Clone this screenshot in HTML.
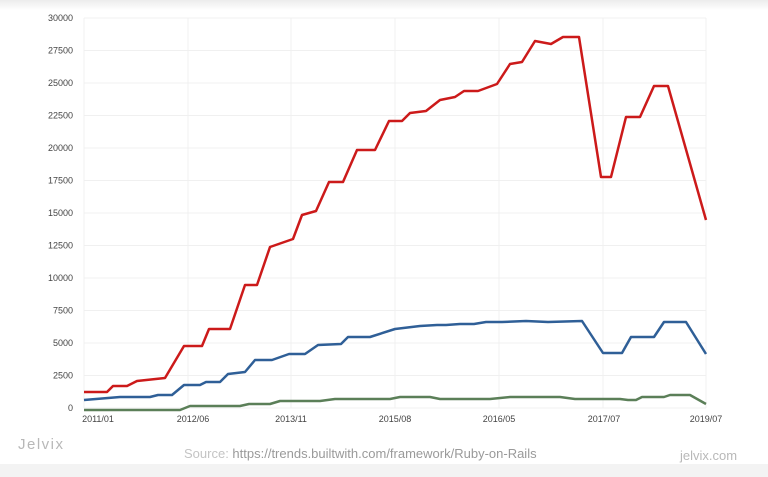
<!DOCTYPE html>
<html><head><meta charset="utf-8"><style>
body{margin:0;background:#fff;}
svg{display:block;font-family:"Liberation Sans",sans-serif;}
</style></head><body>
<svg width="768" height="477" viewBox="0 0 768 477">
<defs><linearGradient id="tg" x1="0" y1="0" x2="0" y2="1"><stop offset="0" stop-color="#ececec"/><stop offset="1" stop-color="#fff"/></linearGradient></defs>
<rect width="768" height="477" fill="#fff"/>
<rect width="768" height="10" fill="url(#tg)"/>
<rect y="464" width="768" height="13" fill="#f3f3f3"/>
<g stroke="#f0f0f0" stroke-width="1">
<line x1="84" y1="18" x2="706" y2="18"/><line x1="84" y1="50.5" x2="706" y2="50.5"/><line x1="84" y1="83" x2="706" y2="83"/><line x1="84" y1="115.5" x2="706" y2="115.5"/><line x1="84" y1="148" x2="706" y2="148"/><line x1="84" y1="180.5" x2="706" y2="180.5"/><line x1="84" y1="213" x2="706" y2="213"/><line x1="84" y1="245.5" x2="706" y2="245.5"/><line x1="84" y1="278" x2="706" y2="278"/><line x1="84" y1="310.5" x2="706" y2="310.5"/><line x1="84" y1="343" x2="706" y2="343"/><line x1="84" y1="375.5" x2="706" y2="375.5"/><line x1="84" y1="408" x2="706" y2="408"/>
<line x1="84" y1="18" x2="84" y2="408"/><line x1="188" y1="18" x2="188" y2="408"/><line x1="291" y1="18" x2="291" y2="408"/><line x1="395" y1="18" x2="395" y2="408"/><line x1="499" y1="18" x2="499" y2="408"/><line x1="603" y1="18" x2="603" y2="408"/><line x1="706" y1="18" x2="706" y2="408"/>
</g>
<g font-size="9" fill="#444" text-anchor="end">
<text x="73" y="21">30000</text><text x="73" y="53.5">27500</text><text x="73" y="86">25000</text><text x="73" y="118.5">22500</text><text x="73" y="151">20000</text><text x="73" y="183.5">17500</text><text x="73" y="216">15000</text><text x="73" y="248.5">12500</text><text x="73" y="281">10000</text><text x="73" y="313.5">7500</text><text x="73" y="346">5000</text><text x="73" y="378.5">2500</text><text x="73" y="411">0</text>
</g>
<g font-size="9" fill="#444" text-anchor="middle">
<text x="98" y="422">2011/01</text><text x="193" y="422">2012/06</text><text x="291" y="422">2013/11</text><text x="395" y="422">2015/08</text><text x="499" y="422">2016/05</text><text x="604" y="422">2017/07</text><text x="706" y="422">2019/07</text>
</g>
<g fill="none" stroke-width="2.5" stroke-linejoin="round">
<polyline stroke="#cc1a1a" points="84,392 107,392 113,386 127,386 137,381 165,378 184,346 202,346 209,329 230,329 245,285 257,285 270,247 293,239 302,215 316,211 329,182 343,182 357,150 375,150 389,121 402,121 410,113 426,111 440,100 455,97 464,91 478,91 497,84 510,64 522,62 535,41 551,44 563,37 579,37 601,177 611,177 626,117 640,117 654,86 668,86 706,220"/>
<polyline stroke="#2f5f97" points="84,400 120,397 150,397 158,395 172,395 184,385 200,385 206,382 220,382 228,374 245,372 255,360 272,360 289,354 305,354 318,345 341,344 348,337 370,337 395,329 420,326 437,325 446,325 460,324 474,324 486,322 502,322 526,321 548,322 582,321 603,353 622,353 631,337 654,337 664,322 686,322 706,354"/>
<polyline stroke="#5b7f58" points="84,410 180,410 190,406 240,406 249,404 270,404 280,401 320,401 335,399 390,399 400,397 430,397 440,399 490,399 510,397 560,397 575,399 620,399 628,400 636,400 642,397 664,397 670,395 690,395 706,404"/>
</g>
<text x="18" y="449" font-size="15" fill="#b8b8b8" letter-spacing="1.5">Jelvix</text>
<text x="184" y="458" font-size="13" fill="#c4c4c4">Source: <tspan fill="#9a9a9a">https://trends.builtwith.com/framework/Ruby-on-Rails</tspan></text>
<text x="680" y="460" font-size="13" fill="#b8b8b8">jelvix.com</text>
</svg>
</body></html>
